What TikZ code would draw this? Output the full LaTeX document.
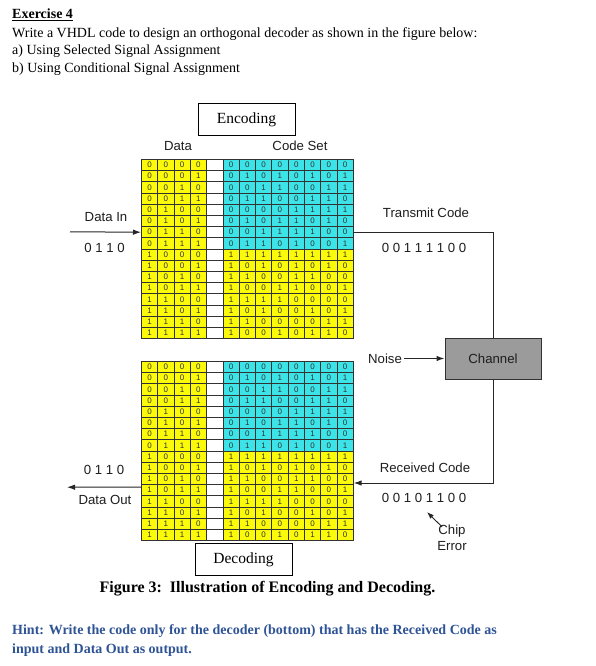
\documentclass[tikz,border=0pt]{standalone}
\usepackage{fontspec}
\setmainfont{Liberation Serif}
\newfontfamily\arialf{Liberation Sans}
\usetikzlibrary{arrows.meta}
\definecolor{cyell}{RGB}{250,250,10}
\definecolor{ccyan}{RGB}{60,228,232}
\definecolor{cgrid}{RGB}{50,50,50}
\definecolor{chanfill}{RGB}{155,155,155}
\definecolor{hintblue}{RGB}{47,84,150}
\definecolor{labtext}{RGB}{30,30,30}
\begin{document}
\begin{tikzpicture}[x=1pt,y=-1pt,
  cell/.style={draw=cgrid, line width=0.8pt, inner sep=0pt, minimum width=16.3pt,
    minimum height=11.2pt, anchor=north west, font=\arialf\fontsize{8}{9}\selectfont, text=black!80},
  lab/.style={font=\arialf\fontsize{13.2}{16}\selectfont, text=labtext, inner sep=2pt},
  head/.style={font=\fontsize{14}{17}\selectfont, anchor=base west, inner sep=0pt},
  tbox/.style={draw=black, line width=0.8pt, minimum width=97pt, minimum height=32pt,
    font=\fontsize{15.5}{18}\selectfont},
  chanbox/.style={draw=cgrid, line width=1pt, fill=chanfill, minimum width=96pt, minimum height=41pt,
    font=\arialf\fontsize{13.2}{16}\selectfont, text=labtext},
  arr/.style={-{Latex[length=8pt,width=5.5pt]}, line width=1pt, draw=black!85},
  plainline/.style={line width=1pt, draw=black!85}]
\path[use as bounding box, fill=white] (0,0) rectangle (596,666);

% header
\node[head, font=\bfseries\fontsize{14}{17}\selectfont] (ex) at (12,18.5) {\underline{Exercise 4}};
\node[head] (l1) at (12,37.5) {Write a VHDL code to design an orthogonal decoder as shown in the figure below:};
\node[head] (l2) at (12,55) {a) Using Selected Signal Assignment};
\node[head] (l3) at (12,73) {b) Using Conditional Signal Assignment};

% tables
\foreach \t/\yo in {T/159,B/361}{
  \foreach \r in {0,...,15}{
    \ifnum\r<8 \def\cc{ccyan}\else\def\cc{cyell}\fi
    \foreach \c in {0,...,3}{
      \pgfmathtruncatemacro\bit{mod(floor(\r/(2^(3-\c))),2)}
      \node[cell, fill=cyell] (\t-\r-\c) at (141+\c*16.3, \yo+\r*11.2) {\bit};
    }
    \node[cell, fill=white] (\t-\r-4) at (141+4*16.3, \yo+\r*11.2) {};
    \foreach \j in {0,...,7}{
      \pgfmathtruncatemacro\k{mod(\r,8)}
      \pgfmathtruncatemacro\bit{mod(mod(\k,2)*mod(\j,2)+mod(floor(\k/2),2)*mod(floor(\j/2),2)+floor(\k/4)*floor(\j/4)+floor(\r/8),2)}
      \pgfmathtruncatemacro\c{\j+5}
      \node[cell, fill=\cc] (\t-\r-\c) at (141+\c*16.3, \yo+\r*11.2) {\bit};
    }
  }
}

% labels above table
\node[tbox] (enc) at (246.5,119.5) {Encoding};
\node[lab] (data) at (178,146) {Data};
\node[lab] (codeset) at (300,146) {Code Set};

% encoder side
\node[lab] (datain) at (106,217) {Data In};
\node[lab] (din) at (104.5,248) {0 1 1 0};
\coordinate (dinS) at (70,231.8);
\draw[arr] (dinS) -- (T-6-0.west);

\node[lab] (tx) at (426,213) {Transmit Code};
\node[lab] (txc) at (424,248) {0 0 1 1 1 1 0 0};

\node[chanbox] (chan) at (493,358.5) {Channel};
\node[lab] (noise) at (385,358.5) {Noise};
\draw[plainline] (T-6-12.east) -| (chan.north);
\draw[arr] (noise) -- (chan);

% decoder side
\draw[arr] (chan.south) |- ([yshift=-4pt]B-10-12.east);
\node[lab] (rx) at (425,468) {Received Code};
\node[lab] (rxc) at (424,498) {0 0 1 0 1 1 0 0};

\node[lab] (dout) at (104,470) {0 1 1 0};
\node[lab] (dataout) at (105,500) {Data Out};
\coordinate (doutE) at (67,487.2);
\draw[arr] ([yshift=-3pt]B-11-0.north west) -- (doutE);

\node[lab, align=center, font=\arialf\fontsize{13.2}{16}\selectfont] (chip) at (452,538) {Chip\\Error};
\coordinate (chiptip) at (427,512);
\draw[-{Latex[length=7pt,width=5pt]}, line width=0.9pt, draw=black!85] ([shift={(7,4)}]chip.north west) -- (chiptip);

\node[tbox] (dec) at (243.5,559.5) {Decoding};

% caption and hint
\node[font=\bfseries\fontsize{16}{19}\selectfont, anchor=base, inner sep=0pt] (cap) at (267.5,592) {Figure 3:\ \ Illustration of Encoding and Decoding.};
\node[head, font=\bfseries\fontsize{14}{17}\selectfont, text=hintblue] (h1) at (12,634) {Hint: Write the code only for the decoder (bottom) that has the Received Code as};
\node[head, font=\bfseries\fontsize{14}{17}\selectfont, text=hintblue] (h2) at (12,653) {input and Data Out as output.};
\end{tikzpicture}
\end{document}
